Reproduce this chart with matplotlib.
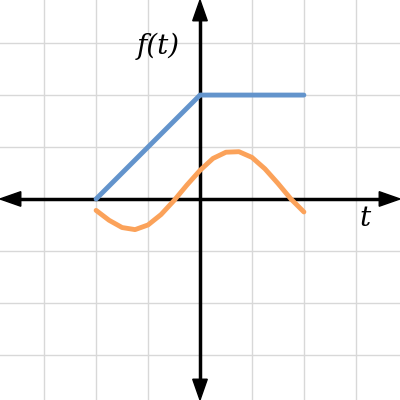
import matplotlib
matplotlib.use("Agg")
import matplotlib.pyplot as plt
import numpy as np

ramp_t = [-2, 0, 2]
ramp_f = [0, 2, 2]

wave_t = [-2, -1.75, -1.5, -1.25, -1, -0.75, -0.5, -0.25, 0, 0.25, 0.5, 0.75, 1, 1.25, 1.5, 1.75, 2]
wave_f = [-0.22, -0.41, -0.55, -0.59, -0.5, -0.3, -0.03, 0.27, 0.55, 0.78, 0.9, 0.91, 0.8, 0.58, 0.3, 0.0, -0.25]

fig = plt.figure(figsize=(4, 4), dpi=100)
ax = fig.add_axes([0, 0, 1, 1])
ax.set_xlim(-3.85, 3.85)
ax.set_ylim(-3.87, 3.83)
ax.set_xticks(np.arange(-3, 4, 1))
ax.set_yticks(np.arange(-3, 4, 1))
ax.grid(True, color="#d8d8d8", lw=1)
ax.tick_params(length=0, labelbottom=False, labelleft=False)
for s in ax.spines.values():
    s.set_visible(False)

# axes with arrow heads
ax.plot([-3.6, 3.6], [0, 0], color="black", lw=2.5, zorder=3)
ax.plot([0, 0], [-3.6, 3.6], color="black", lw=2.5, zorder=3)
hw = dict(color="black", zorder=4)
ax.fill([-3.85, -3.45, -3.45], [0, 0.14, -0.14], **hw)
ax.fill([3.85, 3.45, 3.45], [0, 0.14, -0.14], **hw)
ax.fill([0, 0.14, -0.14], [3.83, 3.43, 3.43], **hw)
ax.fill([0, 0.14, -0.14], [-3.87, -3.47, -3.47], **hw)

ax.plot(ramp_t, ramp_f, color="#6394cc", lw=3.5, zorder=5, solid_capstyle="round")
ax.plot(wave_t, wave_f, color="#fba25a", lw=3.5, zorder=5, solid_capstyle="round")

ax.text(-0.8, 2.93, "f(t)", fontsize=20, style="italic", family="DejaVu Serif",
        ha="center", va="center")
ax.text(3.17, -0.38, "t", fontsize=20, style="italic", family="DejaVu Serif",
        ha="center", va="center")

fig.savefig("out.png", dpi=100)
